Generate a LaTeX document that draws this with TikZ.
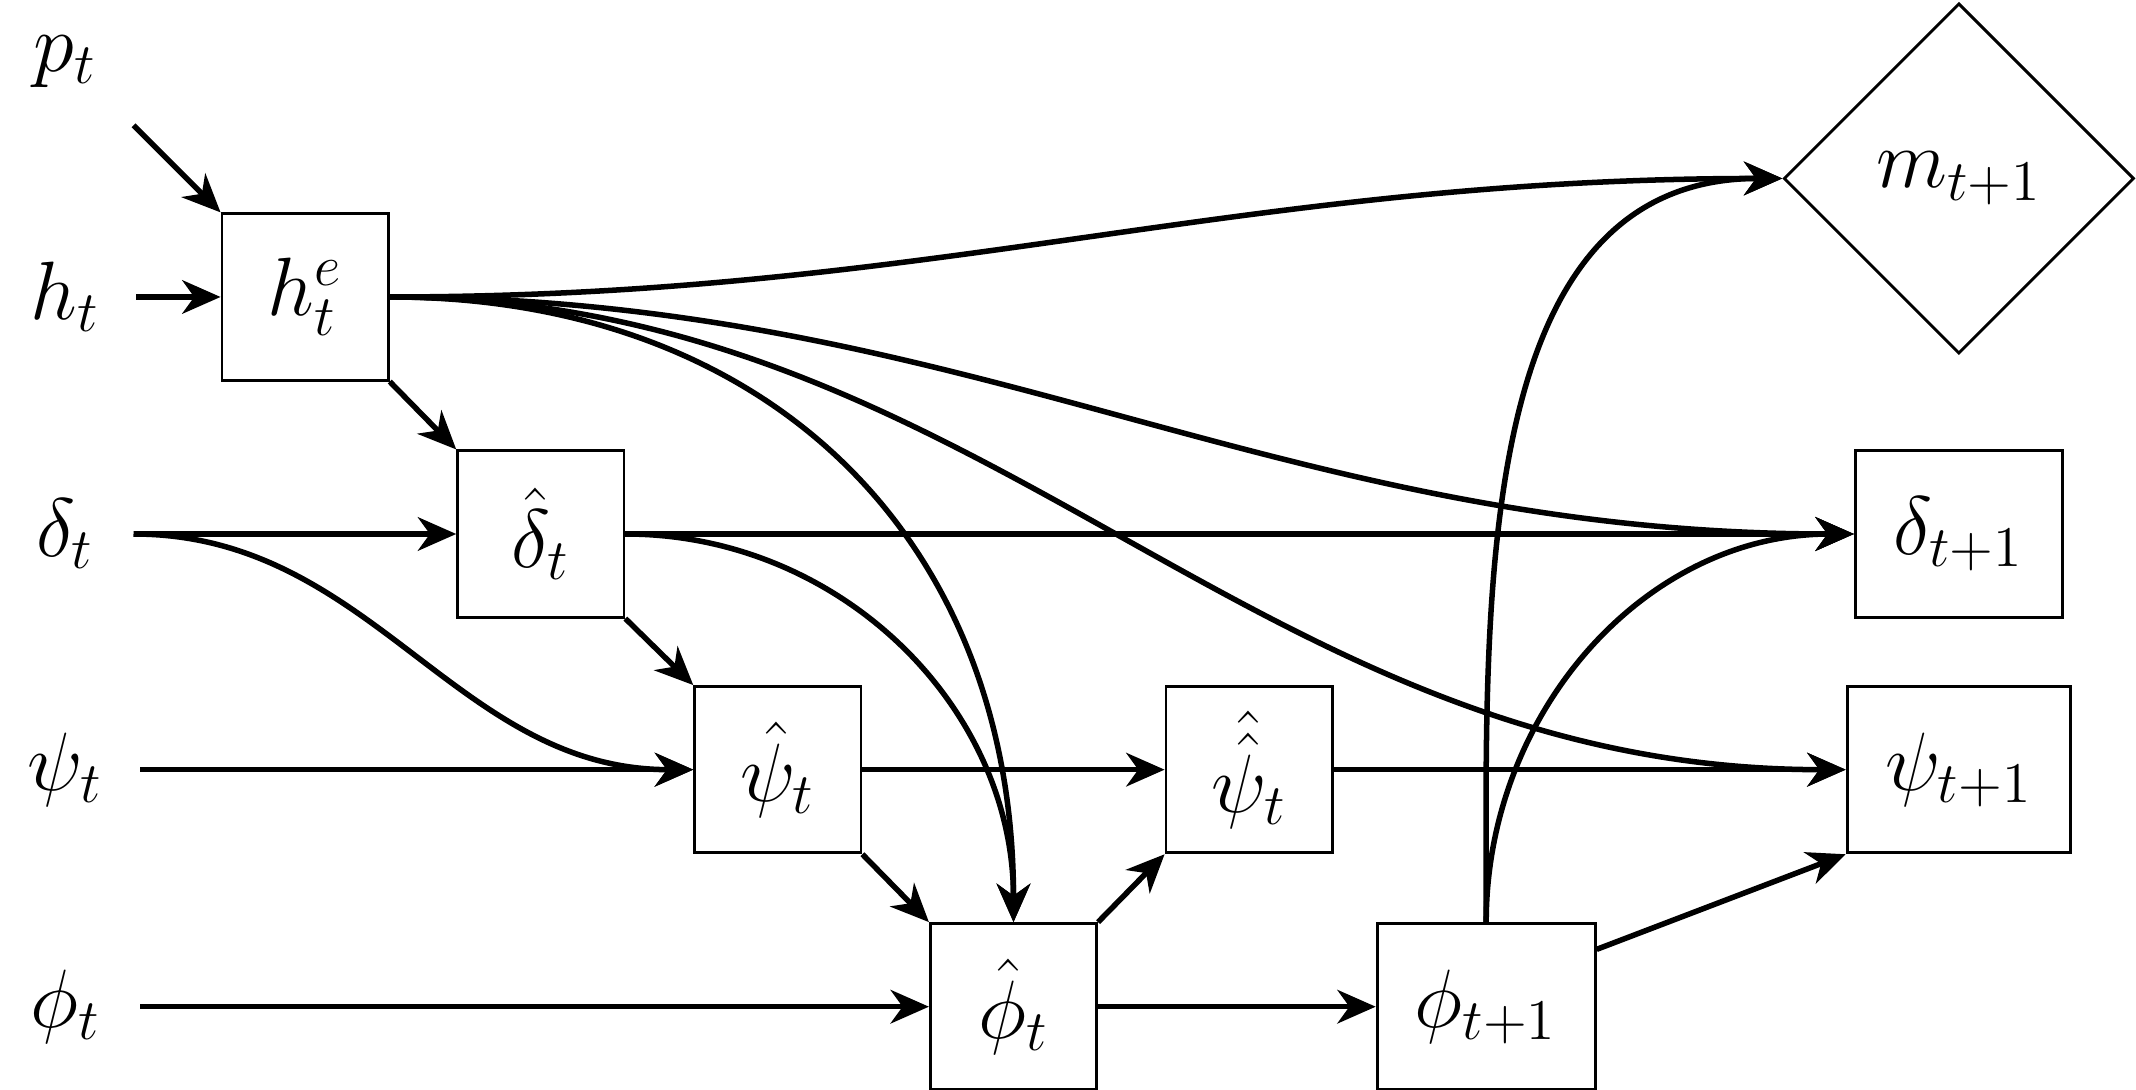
\documentclass[tikz,border=0pt]{standalone}
\usepackage{amsmath}
\usetikzlibrary{shapes.geometric,arrows.meta}
\begin{document}
\begin{tikzpicture}[x=0.01cm,y=-0.01cm,
  every node/.style={font=\fontsize{17.5}{20}\selectfont},
  box/.style={draw,line width=0.6pt,minimum width=1.22cm,minimum height=1.22cm,inner sep=0pt},
  lab/.style={inner sep=0pt},
  ar/.style={line width=1.15pt,-{Stealth[length=8pt,width=7pt,inset=2.5pt]}}]
\useasboundingbox (0,0) rectangle (1568,800);
\node[lab] (p) at (48,45) {$p_t$};
\node[lab] (h) at (48,218) {$h_t$};
\node[lab] (d) at (48,392) {$\delta_t$};
\node[lab] (s) at (48,565) {$\psi_t$};
\node[lab] (f) at (48,739) {$\phi_t$};
\coordinate (pa) at (98,92);
\coordinate (ha) at (100,218);
\coordinate (da) at (98,392);
\coordinate (sa) at (103,565);
\coordinate (fa) at (103,739);
\node[box] (he) at (224,218) {$h_t^e$};
\node[box] (dh) at (397,392) {$\hat{\delta}_t$};
\node[box] (sh) at (571,565) {$\hat{\psi}_t$};
\node[box] (fh) at (744,739) {$\hat{\phi}_t$};
\node[box] (shh) at (917,565) {$\hat{\hat{\psi}}_t$};
\node[box,minimum width=1.6cm] (f1) at (1091,739) {$\phi_{t+1}$};
\node[draw,line width=0.6pt,diamond,minimum width=2.57cm,minimum height=2.57cm,inner sep=0pt] (m) at (1438,131) {$m_{t+1}$};
\node[box,minimum width=1.52cm] (d1) at (1438,392) {$\delta_{t+1}$};
\node[box,minimum width=1.64cm] (s1) at (1438,565) {$\psi_{t+1}$};
\draw[ar] (pa) -- (he.north west);
\draw[ar] (ha) -- (he.west);
\draw[ar] (he.south east) -- (dh.north west);
\draw[ar] (dh.south east) -- (sh.north west);
\draw[ar] (sh.south east) -- (fh.north west);
\draw[ar] (fh.north east) -- (shh.south west);
\draw[ar] (da) -- (dh.west);
\draw[ar] (da) to[out=0,in=180] (sh.west);
\draw[ar] (sa) -- (sh.west);
\draw[ar] (fa) -- (fh.west);
\draw[ar] (he.east) to[out=0,in=180] (m.west);
\draw[ar] (he.east) to[out=0,in=180] (d1.west);
\draw[ar] (he.east) to[out=0,in=180] (s1.west);
\draw[ar] (he.east) to[out=0,in=90,looseness=1.1] (fh.north);
\draw[ar] (dh.east) to[out=0,in=90] (fh.north);
\draw[ar] (dh.east) -- (d1.west);
\draw[ar] (sh.east) -- (shh.west);
\draw[ar] (shh.east) -- (s1.west);
\draw[ar] (fh.east) -- (f1.west);
\draw[ar] (f1.north) to[out=90,in=180] (m.west);
\draw[ar] (f1.north) to[out=90,in=180] (d1.west);
\draw[ar] (f1.north east) ++(0,20) coordinate (fne) (fne) -- (s1.south west);
\end{tikzpicture}
\end{document}
